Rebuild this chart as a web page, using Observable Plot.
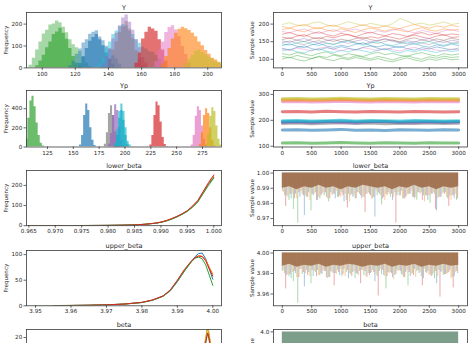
<!DOCTYPE html>
<html><head><meta charset="utf-8">
<script src="https://cdn.jsdelivr.net/npm/d3@7"></script>
<script src="https://cdn.jsdelivr.net/npm/@observablehq/plot@0.6"></script>
<style>
html,body{margin:0;padding:0;background:#fff;}
#fig{position:relative;width:474px;height:343px;overflow:hidden;background:#fff;}
#fig svg{position:absolute;}
</style></head><body><div id="fig"></div>
<script>
// ---------- colours (matplotlib tab10) ----------
const tab = {blue:"#1f77b4", orange:"#ff7f0e", green:"#2ca02c", red:"#d62728", purple:"#9467bd",
             brown:"#8c564b", pink:"#e377c2", gray:"#7f7f7f", olive:"#bcbd22", cyan:"#17becf"};

// ---------- Row 1: Y histograms (bin width 2, counts) ----------
const Y_bin = 2;
const Y_h_green_a  = [12,44,82,118,155,172,196,201,214,206,186,161,128,106,92,75,48,22,6];
const Y_h_green_b  = [10,31,58,92,118,152,164,181,158,131,88,52,21,5];
const Y_h_blue_a   = [10,30,62,86,114,128,154,163,170,141,124,99,83,56,41,18];
const Y_h_blue_b   = [20,52,88,122,139,152,128,101,68,41,14];
const Y_h_cyan     = [20,48,92,118,152,168,188,198,191,168,152,128,112,94,86,74,71,58,41,19];
const Y_h_purple   = [18,52,88,132,158,192,228,242,208,172,128,92,48,21];
const Y_h_brown    = [38,82,118,162,188,212,178,132,78,41,9];
const Y_h_red      = [21,68,132,163,186,178,167,128,82,31];
const Y_h_pink     = [29,82,118,162,184,192,173,142,98,61,24];
const Y_h_orange   = [19,52,88,132,158,176,186,179,171,158,142,118,101,79,62,44,36,24,16];
const Y_h_olive    = [19,41,58,76,81,69,61,49,41,29,26,21];
const Y_h_starts   = [92,96,116,122,134,136,140,156,168,172,186];
const Y_h_counts   = [Y_h_green_a,Y_h_green_b,Y_h_blue_a,Y_h_blue_b,Y_h_cyan,Y_h_purple,Y_h_brown,Y_h_red,Y_h_pink,Y_h_orange,Y_h_olive];
const Y_h_colors   = [tab.green,tab.green,tab.blue,tab.blue,tab.cyan,tab.purple,tab.brown,tab.red,tab.pink,tab.orange,tab.olive];
const Y_h_alpha    = [0.42,0.6,0.45,0.6,0.45,0.45,0.3,0.65,0.55,0.6,0.5];

// ---------- Row 1: Y traces (every 125 draws) ----------
const Y_t_olive   = [199,204,197,195,203,206,198,193,200,207,201,196,202,198,194,201,216,209,199,203,197,201,206,199,202];
const Y_t_orange1 = [193,188,195,199,191,187,194,197,190,186,193,198,192,189,195,190,187,194,199,193,188,195,191,197,192];
const Y_t_orange2 = [184,189,182,178,186,190,183,179,187,181,176,184,189,185,180,186,182,178,185,190,183,180,187,182,185];
const Y_t_pink1   = [179,175,182,186,178,173,180,184,177,182,186,179,174,181,177,183,187,180,175,182,178,173,181,185,179];
const Y_t_red1    = [171,176,169,165,173,178,170,166,174,169,164,172,177,171,167,173,170,165,172,176,169,174,168,172,170];
const Y_t_red2    = [163,159,166,170,162,158,165,161,167,171,163,158,164,160,166,162,157,164,169,163,159,166,170,162,164];
const Y_t_brown   = [156,161,154,150,158,162,155,151,157,153,159,163,156,152,158,154,150,157,161,155,151,158,154,160,156];
const Y_t_purple  = [152,148,155,159,151,146,153,157,150,145,152,156,149,154,158,151,147,153,149,155,159,152,147,154,151];
const Y_t_gray    = [147,152,145,142,149,153,146,143,150,154,147,143,149,145,151,155,148,144,150,146,142,149,153,146,148];
const Y_t_cyan1   = [144,140,147,151,143,139,146,141,148,152,145,140,146,150,143,139,145,149,142,147,151,144,140,146,144];
const Y_t_blue1   = [139,144,137,133,141,145,138,134,140,136,143,147,139,135,141,137,133,140,145,138,134,141,137,143,139];
const Y_t_blue2   = [131,127,134,138,130,126,133,129,136,131,127,134,138,131,127,133,137,130,126,133,129,135,131,127,132];
const Y_t_cyan2   = [124,128,121,118,126,130,123,119,125,121,128,124,119,126,130,122,118,125,121,127,123,119,126,122,125];
const Y_t_pink2   = [129,125,132,128,124,131,135,128,124,130,126,133,129,125,131,127,123,130,134,127,131,126,123,129,127];
const Y_t_green1  = [116,112,119,115,110,117,121,114,110,116,112,108,115,120,113,117,111,108,115,119,113,109,116,112,115];
const Y_t_green2  = [108,104,111,106,102,109,105,112,107,103,110,106,101,108,104,98,105,110,104,100,107,103,109,105,107];
const Y_t_green3  = [101,106,99,95,102,107,100,96,103,99,105,101,97,102,96,93,99,104,98,94,101,97,103,99,100];
const Y_t_step = 125;
const Y_t_series = [Y_t_olive,Y_t_orange1,Y_t_orange2,Y_t_pink1,Y_t_red1,Y_t_red2,Y_t_brown,Y_t_purple,Y_t_gray,Y_t_cyan1,Y_t_blue1,Y_t_blue2,Y_t_cyan2,Y_t_pink2,Y_t_green1,Y_t_green2,Y_t_green3];
const Y_t_colors = [tab.olive,tab.orange,tab.orange,tab.pink,tab.red,tab.red,tab.brown,tab.purple,tab.gray,tab.cyan,tab.blue,tab.blue,tab.cyan,tab.pink,tab.green,tab.green,tab.green];

// ---------- Row 2: Yp histograms ----------
const Yp_bin = 2;
const Yp_h_green  = [80,300,480,530,420,250,120,40,10];
const Yp_h_blue   = [20,120,330,450,380,200,70,15];
const Yp_h_gray   = [30,150,350,430,330,160,50,10];
const Yp_h_purple = [30,140,330,440,380,200,70,15];
const Yp_h_blue2  = [20,120,300,380,280,120,30];
const Yp_h_cyan   = [40,180,370,450,370,200,60,20,5];
const Yp_h_red    = [20,120,330,470,430,260,100,25,5];
const Yp_h_pink   = [20,120,320,420,380,220,80,20];
const Yp_h_orange = [30,150,330,400,350,200,70,15];
const Yp_h_olive  = [20,130,320,410,370,220,80,20];
const Yp_h_starts = [104,156,180,184,190,190,224,264,272,278];
const Yp_h_counts = [Yp_h_green,Yp_h_blue,Yp_h_gray,Yp_h_purple,Yp_h_blue2,Yp_h_cyan,Yp_h_red,Yp_h_pink,Yp_h_orange,Yp_h_olive];
const Yp_colors   = [tab.green,tab.blue,tab.gray,tab.purple,tab.blue,tab.cyan,tab.red,tab.pink,tab.orange,tab.olive];

// ---------- Row 2: Yp traces (every 250 draws) ----------
const Yp_t_green  = [112,113,111,112,114,112,111,113,112,111,113,112,112];
const Yp_t_blue   = [163,164,162,163,165,162,163,161,164,163,162,164,163];
const Yp_t_gray   = [188,190,187,189,191,188,190,187,189,188,190,188,189];
const Yp_t_purple = [192,193,191,194,192,191,193,195,192,191,193,192,193];
const Yp_t_blue2  = [195,196,194,195,197,194,196,195,193,196,195,194,195];
const Yp_t_cyan   = [198,199,197,198,200,197,199,198,197,199,198,197,198];
const Yp_t_red    = [233,234,232,235,233,232,234,233,232,234,233,232,233];
const Yp_t_pink   = [272,273,271,272,274,272,271,273,272,271,273,272,272];
const Yp_t_orange = [278,279,277,278,280,278,277,279,278,277,279,278,278];
const Yp_t_olive  = [283,284,282,283,285,283,282,284,283,282,284,283,283];
const Yp_t_step = 250;
const Yp_t_series = [Yp_t_green,Yp_t_blue,Yp_t_gray,Yp_t_purple,Yp_t_blue2,Yp_t_cyan,Yp_t_red,Yp_t_pink,Yp_t_orange,Yp_t_olive];

// ---------- Row 3: lower_beta KDE per chain ----------
const lb_x = [0.965,0.970,0.975,0.980,0.983,0.985,0.987,0.989,0.990,0.991,0.992,0.993,0.994,0.995,0.996,0.997,0.998,0.999,1.000];
const lb_c0 = [0.2,0.5,0.9,1.6,2.6,4,7,12.5,17,24,33,44,57,72,94,121,163,206,240];
const lb_c1 = [0.1,0.4,0.8,1.5,2.5,4.2,7.4,13,18,25,34,45,58,73,96,124,167,210,246];
const lb_c2 = [0.3,0.6,1.0,1.7,2.7,4.1,7.1,12.2,16.5,23,32,43,56,71,92,118,160,200,236];
const lb_c3 = [0.1,0.3,0.7,1.4,2.4,3.9,6.9,12.8,18,25,35,46,59,75,98,126,170,214,252];
const lb_ticks = [0.965,0.970,0.975,0.980,0.985,0.990,0.995,1.000];

// ---------- Row 3: lower_beta trace (spike minima every 75 draws per chain, dense band edge) ----------
const lbt_c0 = [0.988,0.985,0.983,0.986,0.984,0.972,0.987,0.985,0.982,0.986,0.984,0.987,0.983,0.985,0.981,0.986,0.984,0.987,0.983,0.986,0.985,0.971,0.986,0.984,0.987,0.982,0.985,0.988,0.984,0.986,0.983,0.987,0.985,0.982,0.986,0.975,0.984,0.987,0.985,0.983];
const lbt_c1 = [0.987,0.984,0.986,0.983,0.988,0.985,0.982,0.986,0.984,0.987,0.983,0.985,0.988,0.984,0.986,0.981,0.985,0.987,0.984,0.986,0.983,0.988,0.985,0.982,0.986,0.984,0.987,0.983,0.985,0.988,0.984,0.986,0.981,0.985,0.987,0.983,0.986,0.984,0.982,0.986];
const lbt_c2 = [0.985,0.982,0.976,0.967,0.986,0.984,0.975,0.987,0.983,0.985,0.981,0.986,0.984,0.987,0.982,0.985,0.983,0.986,0.984,0.987,0.983,0.985,0.979,0.986,0.984,0.987,0.985,0.983,0.986,0.984,0.982,0.987,0.985,0.980,0.986,0.984,0.987,0.983,0.985,0.982];
const lbt_c3 = [0.978,0.986,0.983,0.987,0.985,0.984,0.986,0.982,0.985,0.987,0.983,0.986,0.984,0.985,0.977,0.986,0.983,0.985,0.974,0.986,0.984,0.987,0.983,0.985,0.986,0.967,0.985,0.983,0.986,0.984,0.987,0.982,0.985,0.986,0.976,0.984,0.986,0.978,0.985,0.983];
const lbt_band = [0.990,0.991,0.989,0.991,0.990,0.992,0.990,0.991,0.989,0.991,0.990,0.992,0.991,0.990,0.991,0.989,0.991,0.990,0.992,0.990,0.991,0.989,0.991,0.990,0.991];

// ---------- Row 4: upper_beta KDE per chain ----------
const ub_x = [3.950,3.955,3.960,3.965,3.970,3.975,3.980,3.983,3.986,3.988,3.990,3.992,3.994,3.995,3.996,3.997,3.998,3.999,4.000];
const ub_c0 = [null,0.3,0.6,1.0,1.8,3.2,6.3,10.8,18.5,29,47,68,87,96,102,103,92,72,52];
const ub_c1 = [null,0.3,0.6,1.0,1.8,3.3,6.6,11.2,19,30,49,70,87,94,98,97,90,76,62];
const ub_c2 = [0.3,0.5,0.8,1.2,2,3.5,6.5,11,19,30,48,68,86,93,95,92,80,60,40];
const ub_c3 = [null,0.3,0.7,1.1,1.9,3.4,6.8,11.5,19.5,31,50,71,88,94,97,96,88,72,58];
const ub_ticks = [3.95,3.96,3.97,3.98,3.99,4.00];

// ---------- Row 4: upper_beta trace ----------
const ubt_c0 = [3.982,3.978,3.975,3.980,3.984,3.967,3.981,3.977,3.983,3.979,3.976,3.982,3.980,3.978,3.984,3.975,3.981,3.979,3.983,3.977,3.980,3.972,3.982,3.978,3.981,3.976,3.983,3.979,3.981,3.977,3.984,3.980,3.975,3.982,3.978,3.970,3.981,3.979,3.983,3.977];
const ubt_c1 = [3.983,3.979,3.981,3.976,3.984,3.980,3.977,3.982,3.978,3.983,3.975,3.981,3.979,3.984,3.977,3.980,3.982,3.978,3.983,3.976,3.981,3.979,3.984,3.977,3.980,3.974,3.982,3.978,3.983,3.979,3.976,3.981,3.984,3.978,3.980,3.977,3.982,3.979,3.975,3.981];
const ubt_c2 = [3.980,3.977,3.972,3.951,3.979,3.983,3.970,3.981,3.978,3.982,3.976,3.980,3.983,3.977,3.981,3.979,3.975,3.982,3.978,3.980,3.983,3.977,3.979,3.965,3.981,3.978,3.983,3.976,3.968,3.980,3.982,3.977,3.981,3.979,3.975,3.983,3.978,3.980,3.976,3.982];
const ubt_c3 = [3.965,3.979,3.982,3.976,3.981,3.978,3.983,3.977,3.980,3.982,3.976,3.968,3.981,3.979,3.983,3.977,3.980,3.970,3.982,3.978,3.981,3.958,3.983,3.977,3.980,3.979,3.982,3.976,3.981,3.978,3.983,3.968,3.980,3.977,3.982,3.957,3.979,3.981,3.966,3.980];
const ubt_band = [3.987,3.989,3.986,3.988,3.987,3.989,3.986,3.988,3.987,3.989,3.988,3.986,3.988,3.987,3.989,3.986,3.988,3.987,3.989,3.986,3.988,3.987,3.989,3.987,3.988];

// ---------- Row 5: beta ----------
const b_x  = [3.92,3.94,3.955,3.965,3.972,3.978,3.983,3.987,3.990,3.993,3.997,4.002,4.008,4.015,4.025,4.04];
const b_c0 = [0,1.5,5,9.5,13,16,18.5,20.5,21.5,20.5,18.5,15.5,11.5,7.5,3,0];
const b_c1 = [0,2,6,11,15,18,21,23.5,24.5,23.5,21,18,14,9,4,0];
const b_c2 = [0,2,6,10.5,14.5,17.5,20,22.5,23.5,22.5,20,17,13,8.5,3.5,0];
const b_c3 = [0,2,5,10,13.5,16.5,19,21,22,21,19,16,12,8,3,0];
const bt_top = [4.0,4.0,4.0,4.0,4.0,4.0,4.0,4.0,4.0,4.0,4.0,4.0,4.0];
const bt_low = [2.9,2.9,2.9,2.9,2.9,2.9,2.9,2.9,2.9,2.9,2.9,2.9,2.9];

// shared
const draws_ticks = [0,500,1000,1500,2000,2500,3000];
const chain_colors = [tab.blue, tab.orange, tab.green, tab.red];
const spike_step = 75, chain_shift = 19, band_step = 125;

// ---------- helpers ----------
const fig = document.getElementById("fig");
const FONT = "'DejaVu Sans', sans-serif";
const INK = "#262626";
const fmtInt = d => String(d);

// step outline of a histogram: value of bin i holds from its left edge to the next edge
function histSteps(start, w, counts){ return [...counts.map((c,i)=>({x:start+i*w, y:c})), {x:start+counts.length*w, y:0}]; }
function seq(arr, step, shift=0){ return arr.map((v,i)=>({x:i*step+shift, y:v})); }
function kde(xs, ys){ return xs.map((x,i)=>({x, y:ys[i]})); }

function panel(o){
  const left = o.col===0?0:237, ml = o.col===0?26:36, mr = o.col===0?16:7, mt=12, mb=14;
  const svg = Plot.plot({
    width:237, height: mt+o.h+mb, marginLeft:ml, marginRight:mr, marginTop:mt, marginBottom:mb,
    style:{fontFamily:FONT, fontSize:"5.6px", color:INK, background:"transparent"},
    x:{domain:o.xd}, y:{domain:o.yd},
    marks:[
      ...o.marks,
      Plot.frame({stroke:"#3a3a3a", strokeWidth:0.8}),
      Plot.axisX({ticks:o.xt, tickFormat:o.xf||fmtInt, tickSize:2.5, tickPadding:1.2, label:null, strokeWidth:0.7}),
      Plot.axisY({ticks:o.yt, tickFormat:o.yf||fmtInt, tickSize:2.5, tickPadding:1.8, label:null, strokeWidth:0.7}),
      Plot.text([o.title], {text:d=>d, frameAnchor:"top", dy:-4.8, fontSize:6.5, lineAnchor:"middle", fill:INK}),
      Plot.text([o.ylabel], {text:d=>d, frameAnchor:"left", dx:o.col===0?-20:-21, rotate:-90, textAnchor:"middle", lineAnchor:"middle", fontSize:5.6, fill:INK})
    ]
  });
  svg.style.left = left+"px"; svg.style.top = (o.top-mt)+"px";
  fig.appendChild(svg);
}

// ---------- Row 1 ----------
panel({col:0, top:12.3, h:55.4, xd:[90.5,208.3], yd:[0,253], xt:[100,120,140,160,180,200], yt:[0,100,200],
  title:"Y", ylabel:"Frequency",
  marks: Y_h_counts.map((c,k)=>Plot.areaY(histSteps(Y_h_starts[k], Y_bin, c), {x:"x", y:"y", curve:"step-after", fill:Y_h_colors[k], fillOpacity:Y_h_alpha[k], clip:true}))
});
panel({col:1, top:12.3, h:55.4, xd:[-150,3150], yd:[75.5,233], xt:draws_ticks, yt:[100,150,200],
  title:"Y", ylabel:"Sample value",
  marks: Y_t_series.map((s,k)=>Plot.line(seq(s, Y_t_step), {x:"x", y:"y", stroke:Y_t_colors[k], strokeOpacity:0.5, strokeWidth:0.8, clip:true}))
});

// ---------- Row 2 ----------
panel({col:0, top:90.2, h:56.5, xd:[104.7,293.4], yd:[0,590], xt:[125,150,175,200,225,250,275], yt:[0,200,400],
  title:"Yp", ylabel:"Frequency",
  marks: Yp_h_counts.map((c,k)=>Plot.areaY(histSteps(Yp_h_starts[k], Yp_bin, c), {x:"x", y:"y", curve:"step-after", fill:Yp_colors[k], fillOpacity:0.7, clip:true}))
});
panel({col:1, top:90.2, h:56.5, xd:[-150,3150], yd:[97,315], xt:draws_ticks, yt:[100,200,300],
  title:"Yp", ylabel:"Sample value",
  marks: Yp_t_series.map((s,k)=>Plot.line(seq(s, Yp_t_step), {x:"x", y:"y", stroke:Yp_colors[k], strokeOpacity:0.6, strokeWidth:3, clip:true}))
});

// ---------- Row 3 ----------
panel({col:0, top:170.3, h:55.2, xd:[0.96456,1.00146], yd:[0,274], xt:lb_ticks, xf:d3.format(".3f"), yt:[0,100,200],
  title:"lower_beta", ylabel:"Frequency",
  marks: [lb_c0,lb_c1,lb_c2,lb_c3].map((c,k)=>Plot.line(kde(lb_x,c), {x:"x", y:"y", stroke:chain_colors[k], strokeWidth:1, clip:true}))
});
panel({col:1, top:170.3, h:55.2, xd:[-150,3150], yd:[0.9653,1.0017], xt:draws_ticks, yt:[0.97,0.98,0.99,1.00], yf:d3.format(".2f"),
  title:"lower_beta", ylabel:"Sample value",
  marks: [
    ...[lbt_c0,lbt_c1,lbt_c2,lbt_c3].map((c,k)=>Plot.ruleX(seq(c, spike_step, k*chain_shift), {x:"x", y1:1.0, y2:"y", stroke:chain_colors[k], strokeOpacity:0.45, strokeWidth:0.9, clip:true})),
    Plot.areaY(seq(lbt_band, band_step), {x:"x", y1:1.0, y2:"y", fill:"#a0714f", fillOpacity:0.95, clip:true})
  ]
});

// ---------- Row 4 ----------
panel({col:0, top:249.8, h:55.3, xd:[3.94746,4.00245], yd:[0,108], xt:ub_ticks, xf:d3.format(".2f"), yt:[0,50,100],
  title:"upper_beta", ylabel:"Frequency",
  marks: [ub_c0,ub_c1,ub_c2,ub_c3].map((c,k)=>Plot.line(kde(ub_x,c), {x:"x", y:"y", stroke:chain_colors[k], strokeWidth:1, clip:true}))
});
panel({col:1, top:249.8, h:55.3, xd:[-150,3150], yd:[3.9485,4.00245], xt:draws_ticks, yt:[3.96,3.98,4.00], yf:d3.format(".2f"),
  title:"upper_beta", ylabel:"Sample value",
  marks: [
    ...[ubt_c0,ubt_c1,ubt_c2,ubt_c3].map((c,k)=>Plot.ruleX(seq(c, spike_step, k*chain_shift), {x:"x", y1:4.0, y2:"y", stroke:chain_colors[k], strokeOpacity:0.45, strokeWidth:0.9, clip:true})),
    Plot.areaY(seq(ubt_band, band_step), {x:"x", y1:4.0, y2:"y", fill:"#a3744f", fillOpacity:0.95, clip:true})
  ]
});

// ---------- Row 5 (cut off by the picture's bottom edge; only the top ticks are inside it) ----------
panel({col:0, top:329, h:55.2, xd:[3.2,4.05], yd:[0,23.4], xt:[], yt:[20],
  title:"beta", ylabel:"Frequency",
  marks: [b_c0,b_c1,b_c2,b_c3].map((c,k)=>Plot.line(kde(b_x,c), {x:"x", y:"y", stroke:[tab.green,tab.orange,tab.olive,tab.red][k], strokeWidth:1, clip:true}))
});
panel({col:1, top:329, h:55.2, xd:[-150,3150], yd:[2.9,4.05], xt:[], yt:[4.0], yf:d3.format(".1f"),
  title:"beta", ylabel:"Sample value",
  marks: [Plot.areaY(bt_top.map((v,i)=>({x:i*250, y1:v, y2:bt_low[i]})), {x:"x", y1:"y1", y2:"y2", fill:"#7d9e8b", clip:true})]
});
</script></body></html>
